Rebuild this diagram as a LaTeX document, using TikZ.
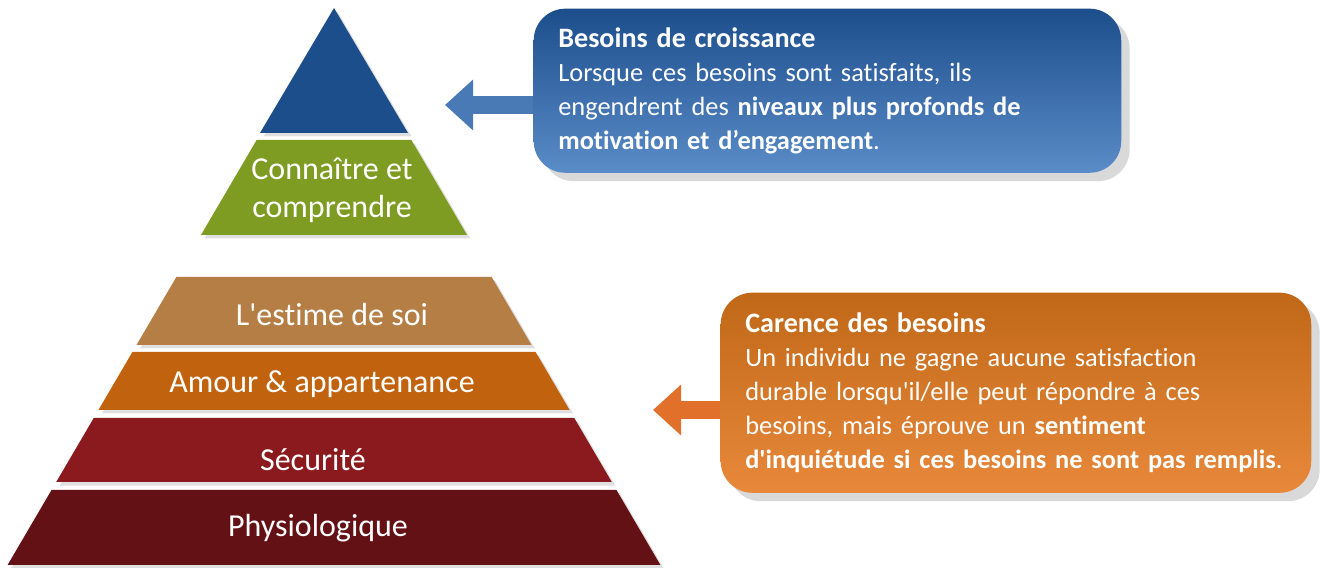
\documentclass[tikz,border=0pt]{standalone}
\usepackage{fontspec}
\setmainfont{Carlito}[Ligatures=NoCommon]
\usetikzlibrary{positioning}
\usetikzlibrary{calc}
\usetikzlibrary{shadows}
\usetikzlibrary{arrows.meta}

\definecolor{topblue}{HTML}{1D4E8C}
\definecolor{boxblue}{HTML}{5A8CC8}
\definecolor{arrowblue}{HTML}{4A7AB5}
\definecolor{lvlgreen}{HTML}{7E9C22}
\definecolor{lvltan}{HTML}{B47E45}
\definecolor{lvlorange}{HTML}{C0620E}
\definecolor{lvlred}{HTML}{8A1A1E}
\definecolor{lvldark}{HTML}{641115}
\definecolor{boxorange}{HTML}{E8883A}
\definecolor{arroworange}{HTML}{E0702A}

\begin{document}
\begin{tikzpicture}[x=0.01cm, y=-0.01cm,
        level/.style={draw=none, drop shadow={opacity=0.25, shadow xshift=1pt, shadow yshift=-1pt}},
        lbl/.style={text=white, font=\fontsize{9.1}{10.8}\selectfont, align=center},
        callout/.style={rounded corners=9pt, drop shadow={opacity=0.3}, inner xsep=7pt, inner ysep=5pt,
            text=white, align=left, anchor=north west, font=\fontsize{7.5}{9.7}\selectfont},
        pointer/.style={line width=5pt, -{Triangle[length=8pt, width=14pt]}}]
        \useasboundingbox (0,0) rectangle (1335,568);
        % pyramid levels (apex 334,8, slope 0.586)
        \def\lvl#1#2#3{%
            \fill[level, #3] ({334-(#1-8)*0.586},#1) -- ({334+(#1-8)*0.586},#1)
                -- ({334+(#2-8)*0.586},#2) -- ({334-(#2-8)*0.586},#2) -- cycle;}
        \fill[level, topblue] (334,8) -- (408,133) -- (260,133) -- cycle;
        \lvl{140}{235}{lvlgreen}
        \lvl{277}{345}{lvltan}
        \lvl{352}{410}{lvlorange}
        \lvl{418}{482}{lvlred}
        \lvl{490}{565}{lvldark}

        \node[lbl] (know) at (332,190) {Connaître et\\comprendre};
        \node[lbl] (esteem) at (332,315) {L\textquotesingle estime de soi};
        \node[lbl] (love) at (322,384) {Amour \& appartenance};
        \node[lbl] (safety) at (313,460) {Sécurité};
        \node[lbl] (physio) at (318,528) {Physiologique};

        % callouts
        \node[callout, top color=topblue, bottom color=boxblue, text width=5.38cm,
            minimum height=1.64cm] (growth) at (533,8)
            {\textbf{\fontsize{8}{10}\selectfont Besoins de croissance}\\
             Lorsque ces besoins sont satisfaits, ils\\
             engendrent des \textbf{niveaux plus profonds de}\\
             \textbf{motivation et d’engagement}.};
        \node[callout, top color=lvlorange!80!brown, bottom color=boxorange, text width=5.41cm,
            minimum height=2cm] (lack) at (720,292)
            {\textbf{\fontsize{8}{10}\selectfont Carence des besoins}\\
             Un individu ne gagne aucune satisfaction\\
             durable lorsqu\textquotesingle il/elle peut répondre à ces\\
             besoins, mais éprouve un \textbf{sentiment}\\
             \textbf{d\textquotesingle inquiétude si ces besoins ne sont pas remplis}.};

        \coordinate (growthtip) at (445,105);
        \coordinate (lacktip) at (653,410);
        \draw[pointer, color=arrowblue] (growth.west |- growthtip) -- (growthtip);
        \draw[pointer, color=arroworange] (lack.west |- lacktip) -- (lacktip);
    \end{tikzpicture}
\end{document}
